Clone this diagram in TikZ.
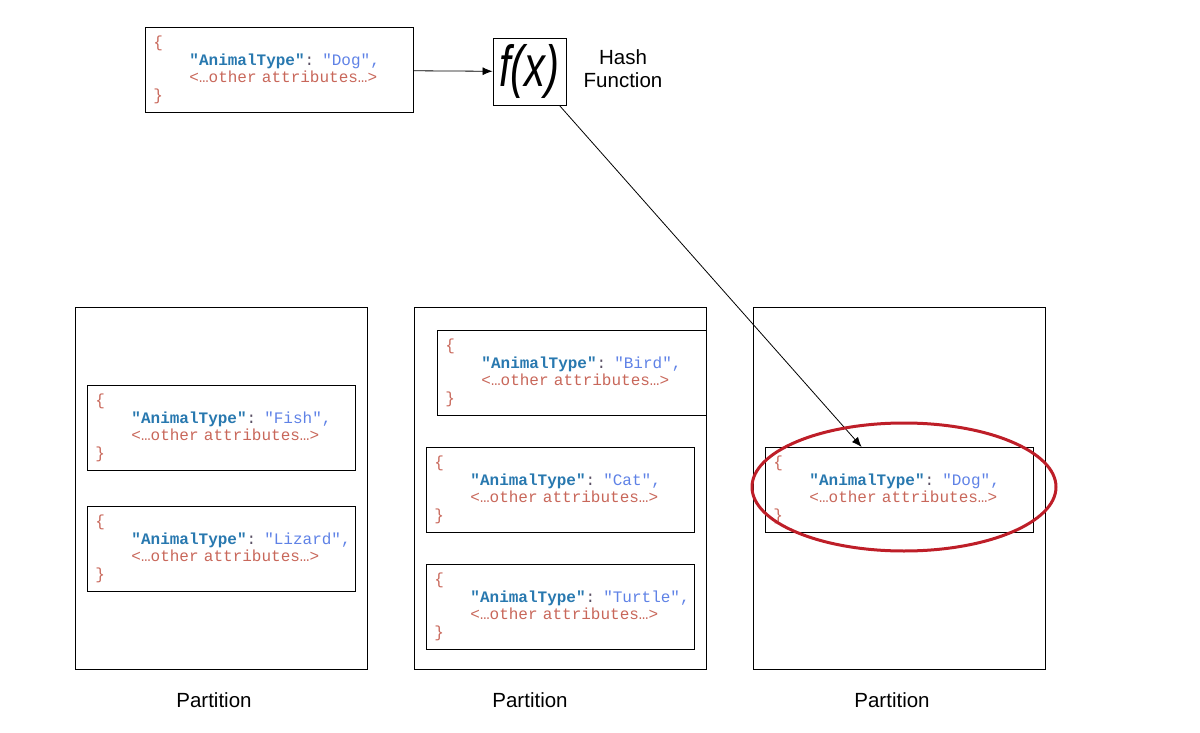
\documentclass[tikz,border=0pt]{standalone}
\usepackage{fontspec}
\usetikzlibrary{arrows.meta}
\setmainfont{Liberation Sans}
\setmonofont{Liberation Mono}
\definecolor{jsbrace}{RGB}{200,103,90}
\definecolor{jskey}{RGB}{40,120,175}
\definecolor{jscolon}{RGB}{90,80,100}
\definecolor{jsval}{RGB}{95,130,230}
\definecolor{pickred}{RGB}{190,30,40}
\newcommand{\jsonrec}[1]{%
  \textcolor{jsbrace}{\{}\\
  \mbox{\hspace*{36pt}\textcolor{jskey}{\textbf{"AnimalType"}}\textcolor{jscolon}{:} \textcolor{jsval}{"#1",}}\\
  \mbox{\hspace*{36pt}\textcolor{jsbrace}{<…other attributes…>}}\\
  \textcolor{jsbrace}{\}}}
\tikzset{
  record/.style={draw, line width=0.9pt, anchor=north west, align=left,
    text width=252pt, inner xsep=8pt, inner ysep=0pt, minimum height=85pt,
    font=\fontsize{16}{17.7}\selectfont\ttfamily},
  part/.style={draw, line width=0.9pt, anchor=north west,
    minimum width=292pt, minimum height=362pt},
  partname/.style={font=\fontsize{20.5}{24}\selectfont},
  link/.style={-{Latex[length=10pt,width=8pt]}, line width=0.8pt}
}
\begin{document}
\begin{tikzpicture}[x=1pt, y=-1pt]
    \useasboundingbox (0,0) rectangle (1200,733);
    % incoming record and hash function
    \node[record] (record) at (145,27) {\jsonrec{Dog}};
    \node[draw, line width=0.9pt, minimum width=73pt, minimum height=67pt, inner sep=0pt]
      (hash) at (529.5,71.5) {\scalebox{0.72}[1]{\fontsize{58}{60}\selectfont\itshape f(x)}};
    \node[align=center, font=\fontsize{20.5}{23}\selectfont] (hashname) at (623,69) {Hash\\Function};
    \draw[link] (record) -- (hash);
    % partitions
    \node[part] (part1) at (75,307) {};
    \node[part] (part2) at (414,307) {};
    \node[part] (part3) at (753,307) {};
    \node[partname] (name1) at (214,700) {Partition};
    \node[partname] (name2) at (530,700) {Partition};
    \node[partname] (name3) at (892,700) {Partition};
    % records in each partition
    \node[record] (fish) at (87,385) {\jsonrec{Fish}};
    \node[record] (lizard) at (87,506) {\jsonrec{Lizard}};
    \node[record, text width=253pt] (bird) at (437,330) {\jsonrec{Bird}};
    \node[record] (cat) at (426,447) {\jsonrec{Cat}};
    \node[record] (turtle) at (426,564) {\jsonrec{Turtle}};
    \node[record] (dog) at (765,447) {\jsonrec{Dog}};
    \draw[link] (hash) -- (dog);
    \draw[pickred, line width=3pt] (904,487) ellipse [x radius=152, y radius=64];
\end{tikzpicture}
\end{document}
